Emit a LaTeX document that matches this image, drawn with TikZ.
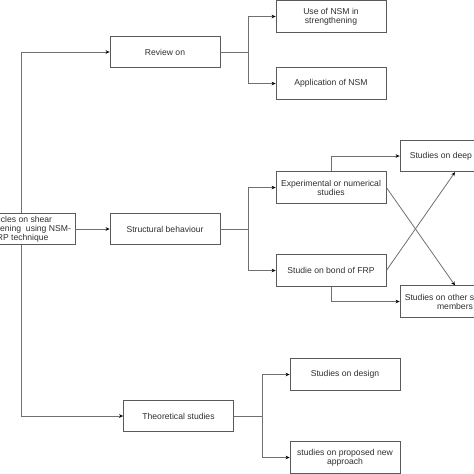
\documentclass[tikz,border=0pt]{standalone}
\usepackage{fontspec}
\setmainfont{Liberation Sans}
\usetikzlibrary{arrows.meta}
\definecolor{linec}{HTML}{707070}
\definecolor{boxc}{HTML}{5A5A5A}
\definecolor{txtc}{HTML}{303030}
\begin{document}
\begin{tikzpicture}[x=1pt,y=-1pt,
  box/.style={draw=boxc,line width=0.8pt,fill=white,rectangle,minimum width=110pt,minimum height=31.5pt,
    inner sep=1pt,align=center,text=txtc,font=\fontsize{8.6}{9}\selectfont},
  conn/.style={draw=linec,line width=0.8pt},
  arr/.style={conn,-{Stealth[length=4pt,width=3.6pt,fill=black,color=black]}}]
\useasboundingbox (0,0) rectangle (474,474);
\clip (0,0) rectangle (474,474);
\coordinate (ltop) at (21,52);
\coordinate (lbot) at (21,416);
\draw[conn] (ltop) -- (lbot);
\node[box] (main) at (20,229) {Articles on shear\\strengthening\ \ using NSM-\\FRP technique};
\node[box] (rev) at (165,52) {Review on};
\node[box] (str) at (165,229) {Structural behaviour};
\node[box] (theo) at (178.5,416) {Theoretical studies};
\node[box] (use) at (331,16.5) {Use of NSM in\\strengthening};
\node[box] (app) at (331,83.5) {Application of NSM};
\node[box] (exp) at (331,187.5) {Experimental or numerical\\studies};
\node[box] (bond) at (331,270.5) {Studie on bond of FRP};
\node[box] (deep) at (455,156) {Studies on deep beams};
\node[box] (other) at (455,301.5) {Studies on other structural\\members};
\node[box] (des) at (345,374.5) {Studies on design};
\node[box] (prop) at (345,457.5) {studies on proposed new\\approach};
% left trunk
\draw[arr] (ltop) -- (rev.west);
\draw[arr] (main.east) -- (str.west);
\draw[arr] (lbot) -- (theo.west);
% review branch
\draw[conn] (rev.east) -- ++(28,0) coordinate (rj);
\draw[arr] (rj) |- (use.west);
\draw[arr] (rj) |- (app.west);
% structural branch
\draw[conn] (str.east) -- ++(28,0) coordinate (sj);
\draw[arr] (sj) |- (exp.west);
\draw[arr] (sj) |- (bond.west);
\draw[arr] (exp.north) |- (deep.west);
\draw[arr] (bond.south) |- (other.west);
\draw[arr] (exp.east) -- (other.north);
\draw[arr] (bond.east) -- (deep.south);
% theoretical branch
\draw[conn] (theo.east) -- ++(28,0) coordinate (tj);
\draw[arr] (tj) |- (des.west);
\draw[arr] (tj) |- (prop.west);
\end{tikzpicture}
\end{document}
